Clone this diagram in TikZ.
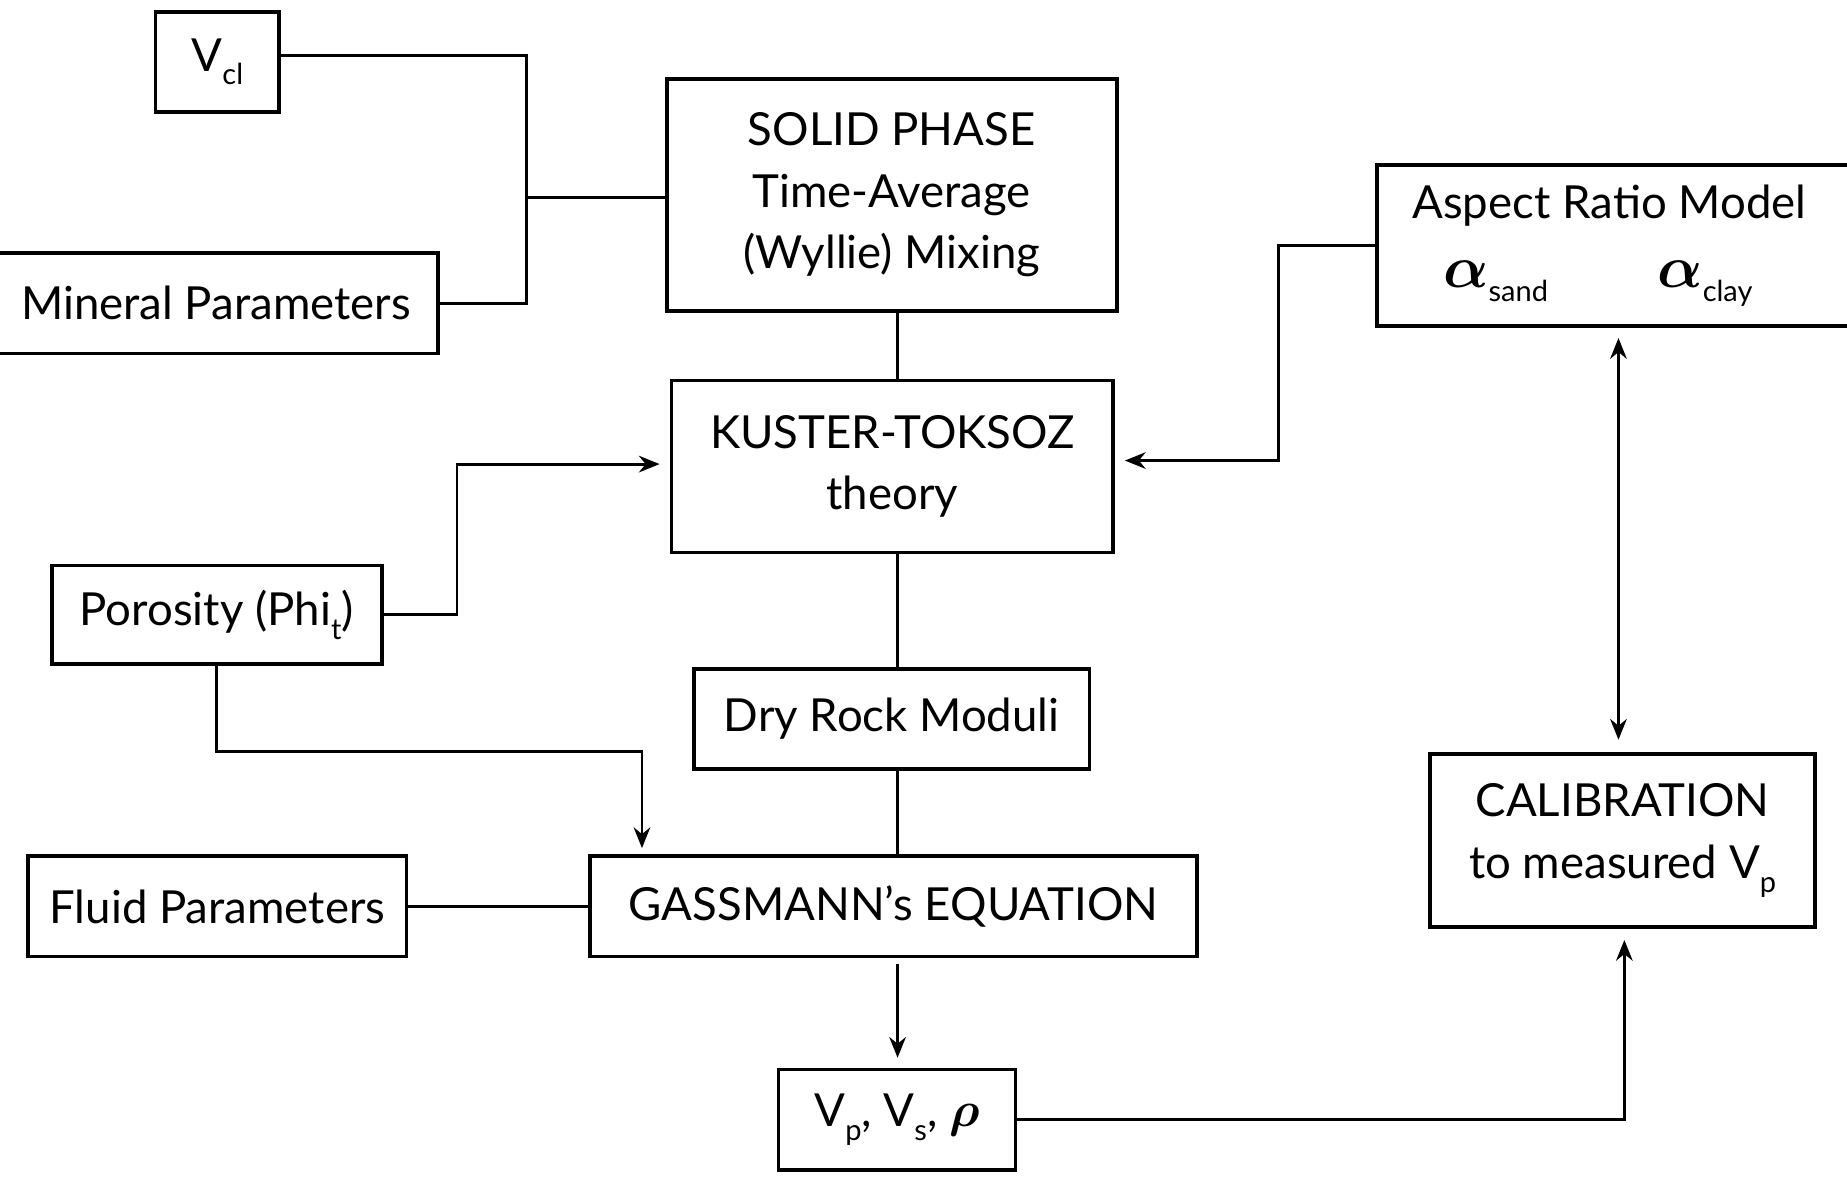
\documentclass[tikz,border=0pt]{standalone}
\usepackage{amsmath,bm}
\usepackage{fontspec}
\setmainfont{Lato}
\usetikzlibrary{arrows.meta}
\begin{document}
\begin{tikzpicture}[x=0.01cm,y=-0.01cm,
  box/.style={draw,line width=0.9pt,inner sep=0pt,align=center,font=\fontsize{11}{14.8}\selectfont},
  ln/.style={line width=0.7pt},
  ar/.style={ln,-{Stealth[length=5pt,width=4pt]}}]
\useasboundingbox (0,0) rectangle (1568,1013);
\def\sbs#1{\raisebox{-0.6ex}{\fontsize{7}{9}\selectfont #1}}
\def\bx#1#2#3#4#5#6{\node[box,minimum width={(#4-#2)*0.01cm},minimum height={(#5-#3)*0.01cm}] (#1) at ({(#2+#4)/2},{(#3+#5)/2}) {#6};}
\bx{vcl}{132}{10}{237}{95}{V\sbs{cl}}
\bx{min}{-5}{215}{372}{300}{Mineral Parameters}
\bx{sol}{566}{67}{948}{264}{SOLID PHASE\\Time-Average\\(Wyllie) Mixing}
\bx{asp}{1169}{140}{1575}{277}{Aspect Ratio Model\hspace*{0.3em}\\[2pt]\hspace*{-0.8em}{\Large$\bm\alpha$}\sbs{sand}\hspace{2.4em}{\Large$\bm\alpha$}\sbs{clay}}
\bx{kt}{570}{323}{945}{469}{KUSTER-TOKSOZ\\theory}
\bx{por}{44}{480}{324}{564}{Porosity (Phi\sbs{t})}
\bx{dry}{589}{568}{925}{653}{Dry Rock Moduli}
\bx{cal}{1214}{640}{1541}{787}{CALIBRATION\\to measured V\sbs{p}}
\bx{flu}{24}{727}{345}{812}{Fluid Parameters}
\bx{gas}{501}{727}{1016}{812}{GASSMANN's EQUATION}
\bx{out}{661}{908}{862}{993}{V\sbs{p}, V\sbs{s}, {\large$\bm\rho$}}
\coordinate (j) at (447,168);
\draw[ln] (vcl.east |- 0,47) -| (j) -- (sol.west |- j);
\draw[ln] (min.east) -| (j);
\draw[ln] (sol.south -| 762,0) -- (kt.north -| 762,0);
\draw[ar] (asp.west) -| (1085,391) -- (955,391);
\draw[ar] (por.east) -| (388,394) -- (560,394);
\draw[ar] (por.south) |- (545,638) -- (545,720);
\draw[ln] (kt.south -| 762,0) -- (dry.north -| 762,0);
\draw[ln] (dry.south -| 762,0) -- (gas.north -| 762,0);
\draw[ln] (flu.east) -- (gas.west);
\draw[ar] (762,818) -- (762,898);
\draw[ar] (out.east) -| (1379,798);
\draw[ln,{Stealth[length=5pt,width=4pt]}-{Stealth[length=5pt,width=4pt]}] (1374,287) -- (1374,628);
\end{tikzpicture}
\end{document}
